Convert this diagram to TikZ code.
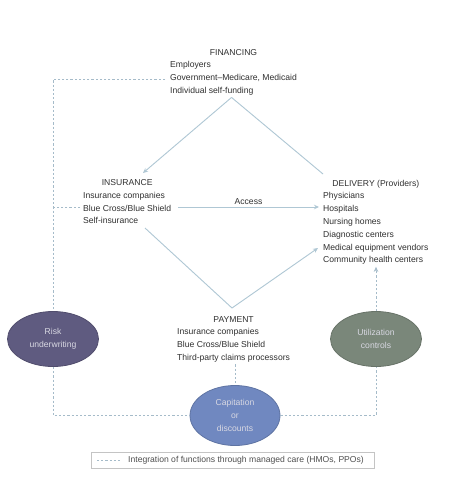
\documentclass[tikz,border=0pt]{standalone}
\usepackage{fontspec}
\setmainfont{Liberation Sans}
\usetikzlibrary{arrows.meta,shapes.geometric}
\definecolor{txt}{HTML}{303030}
\definecolor{linec}{HTML}{AFC7D4}
\definecolor{dashc}{HTML}{A5BBC9}
\definecolor{legc}{HTML}{C4C4C4}
\definecolor{riskc}{HTML}{5F5B80}
\definecolor{utilc}{HTML}{7A877A}
\definecolor{capc}{HTML}{7088C0}
\definecolor{elltxt}{HTML}{D8D8E2}
\begin{document}
\begin{tikzpicture}[x=1pt,y=-1pt,
  block/.style={anchor=base west, inner sep=0pt, text=txt, font=\fontsize{8.6}{12.8}\selectfont},
  ell/.style={ellipse, minimum width=91pt, minimum height=55pt, inner sep=0pt, text=elltxt, align=center, line width=0.8pt, font=\fontsize{8.6}{12.8}\selectfont},
  conn/.style={draw=linec, line width=0.9pt},
  tip/.style={-{Stealth[length=5pt,width=4.5pt]}},
  dashline/.style={draw=dashc, line width=1pt, dash pattern=on 2.2pt off 2pt}
]
\useasboundingbox[fill=white] (0,0) rectangle (474,485);

% text blocks
\node[block] (fin) at (170,55) {\begin{tabular}[t]{@{}l@{}}\multicolumn{1}{@{}c@{}}{FINANCING}\\Employers\\Government–Medicare, Medicaid\\Individual self-funding\end{tabular}};
\node[block] (ins) at (83,185.5) {\begin{tabular}[t]{@{}l@{}}\multicolumn{1}{@{}c@{}}{INSURANCE}\\Insurance companies\\Blue Cross/Blue Shield\\Self-insurance\end{tabular}};
\node[block] (del) at (323,186) {\begin{tabular}[t]{@{}l@{}}\multicolumn{1}{@{}c@{}}{DELIVERY (Providers)}\\Physicians\\Hospitals\\Nursing homes\\Diagnostic centers\\Medical equipment vendors\\Community health centers\end{tabular}};
\node[block] (pay) at (177,322) {\begin{tabular}[t]{@{}l@{}}\multicolumn{1}{@{}c@{}}{PAYMENT}\\Insurance companies\\Blue Cross/Blue Shield\\Third-party claims processors\end{tabular}};

% ellipses
\node[ell, fill=riskc, draw=riskc!85!black] (risk) at (53,339) {Risk\\underwriting};
\node[ell, fill=utilc, draw=utilc!85!black] (util) at (376,339) {Utilization\\controls};
\node[ell, fill=capc, draw=capc!85!black, minimum width=90pt, minimum height=60pt] (cap) at (235,415.5) {Capitation\\or\\discounts};

% diamond connectors
\coordinate (apexT) at ([xshift=-2pt]fin.south);
\coordinate (insTop) at (143,173);
\coordinate (delTop) at (323,174);
\coordinate (insBot) at (145,228);
\coordinate (apexB) at (232,308);
\coordinate (delMed) at (318,248);
\coordinate (accS) at (178,207);
\coordinate (accE) at (319,207);
\draw[conn,tip] (apexT) -- (insTop);
\draw[conn] (apexT) -- (delTop);
\draw[conn] (insBot) -- (apexB);
\draw[conn,tip] (apexB) -- (delMed);
\draw[conn,tip] (accS) -- node[above=1.5pt, inner sep=0pt, text=txt, font=\fontsize{8.6}{12.8}\selectfont] (acc) {Access} (accE);

% dashed managed-care connectors
\coordinate (finL) at (165,79);
\coordinate (insL) at (80,207);
\coordinate (insJ) at (53,207);
\draw[dashline] (finL) -| (risk.north);
\draw[dashline] (insL) -- (insJ);
\draw[dashline] (risk.south) |- (cap.west);
\draw[dashline] (cap.east) -| (util.south);
\draw[dashline,tip] (util.north) -- (util.north |- del.south);
\draw[dashline] (cap.north |- pay.south) -- (cap.north);

% legend
\node[draw=legc, line width=0.6pt, minimum width=283pt, minimum height=16pt, inner sep=0pt] (leg) at (232.5,460) {};
\coordinate (ls) at (97,460);
\coordinate (le) at (122,460);
\draw[dashline] (ls) -- (le);
\node[anchor=west, inner sep=0pt, text=txt!85, font=\fontsize{8.6}{12.8}\selectfont] (legt) at (128,460) {Integration of functions through managed care (HMOs, PPOs)};
\end{tikzpicture}
\end{document}
